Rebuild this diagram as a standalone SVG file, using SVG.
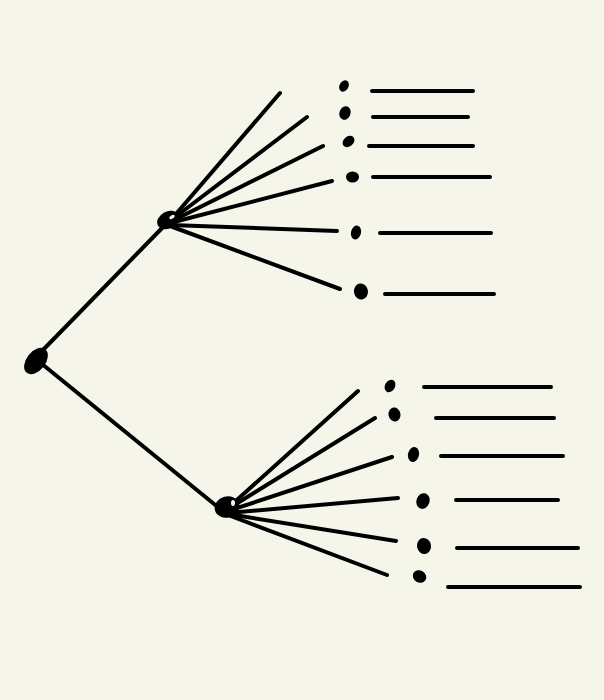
<svg xmlns="http://www.w3.org/2000/svg" width="604" height="700" viewBox="0 0 604 700">
<style>
.e{stroke:#000;stroke-width:4;stroke-linecap:round;fill:none}
.d{fill:#000}
.h{fill:#f5f5ea}
</style>
<rect width="604" height="700" fill="#f5f5ea"/>
<g id="connectors">
<path class="e" d="M41 352 L167 223"/>
<path class="e" d="M42 364 L219 508"/>
<path class="e" d="M170 221 L280 93"/>
<path class="e" d="M170 221 L307 117"/>
<path class="e" d="M170 222 L323 146"/>
<path class="e" d="M170 223 L332 181"/>
<path class="e" d="M170 225 L337 231"/>
<path class="e" d="M170 226 L340 289"/>
<path class="e" d="M228 508 L358 391"/>
<path class="e" d="M228 509 L375 418"/>
<path class="e" d="M228 511 L392 457"/>
<path class="e" d="M228 513 L398 498"/>
<path class="e" d="M228 514 L396 541"/>
<path class="e" d="M228 515 L387 575"/>
</g>
<g id="root"><ellipse class="d" cx="36" cy="361" rx="9.5" ry="15" transform="rotate(38 36 361)"/></g>
<g id="n1"><ellipse class="d" cx="168" cy="220" rx="11.5" ry="8.5" transform="rotate(-30 168 220)"/><ellipse class="h" cx="172" cy="217" rx="3" ry="1.6" transform="rotate(-30 172 217)"/></g>
<g id="n2"><ellipse class="d" cx="227" cy="507" rx="12.5" ry="10.5" transform="rotate(-15 227 507)"/><ellipse class="h" cx="233" cy="503" rx="2" ry="3"/></g>
<g id="a1"><ellipse class="d" cx="344" cy="86" rx="4.5" ry="6" transform="rotate(30 344 86)"/><path class="e" d="M372 91 H473"/></g>
<g id="a2"><ellipse class="d" cx="345" cy="113" rx="5.5" ry="7" transform="rotate(20 345 113)"/><path class="e" d="M373 117 H468"/></g>
<g id="a3"><ellipse class="d" cx="348.5" cy="141.5" rx="5" ry="6.5" transform="rotate(50 348.5 141.5)"/><path class="e" d="M369 146 H473"/></g>
<g id="a4"><ellipse class="d" cx="352.5" cy="177" rx="6.5" ry="5.5"/><path class="e" d="M373 177 H490"/></g>
<g id="a5"><ellipse class="d" cx="356" cy="232.5" rx="5" ry="7" transform="rotate(15 356 232.5)"/><path class="e" d="M380 233 H491"/></g>
<g id="a6"><ellipse class="d" cx="361" cy="291.5" rx="7" ry="8" transform="rotate(-10 361 291.5)"/><path class="e" d="M385 294 H494"/></g>
<g id="b1"><ellipse class="d" cx="390" cy="386" rx="5" ry="6.5" transform="rotate(30 390 386)"/><path class="e" d="M424 387 H551"/></g>
<g id="b2"><ellipse class="d" cx="394.5" cy="414.5" rx="6" ry="7" transform="rotate(-10 394.5 414.5)"/><path class="e" d="M436 418 H554"/></g>
<g id="b3"><ellipse class="d" cx="413.5" cy="454.5" rx="5.5" ry="7.5" transform="rotate(15 413.5 454.5)"/><path class="e" d="M441 456 H563"/></g>
<g id="b4"><ellipse class="d" cx="423" cy="501" rx="6.5" ry="8" transform="rotate(20 423 501)"/><path class="e" d="M456 500 H558"/></g>
<g id="b5"><ellipse class="d" cx="424" cy="546" rx="7" ry="8" transform="rotate(-10 424 546)"/><path class="e" d="M457 548 H578"/></g>
<g id="b6"><ellipse class="d" cx="419.5" cy="576.5" rx="7" ry="6" transform="rotate(30 419.5 576.5)"/><path class="e" d="M448 587 H580"/></g>
</svg>
